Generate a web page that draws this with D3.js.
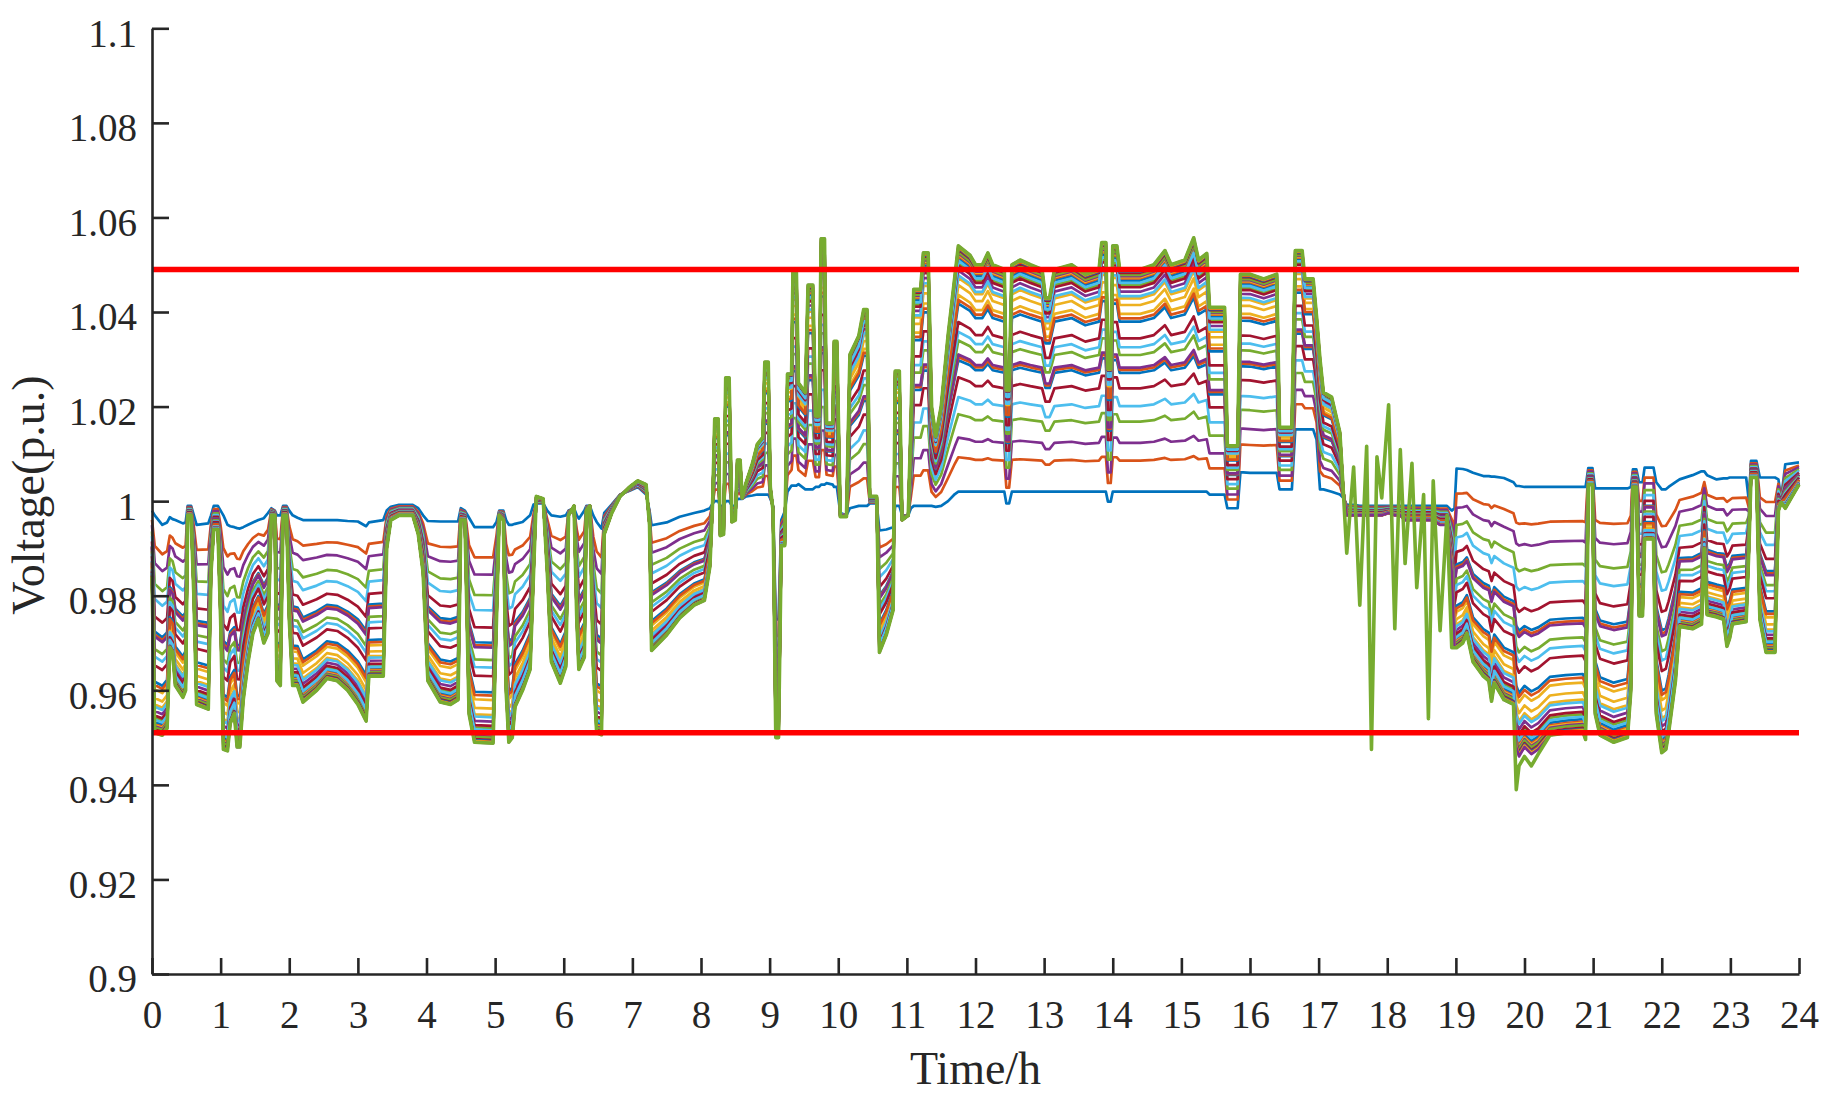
<!DOCTYPE html>
<html><head><meta charset="utf-8">
<script src="https://cdn.jsdelivr.net/npm/d3@7"></script>
<style>body{margin:0;background:#fff;} svg{display:block;}</style>
</head><body>
<svg id="chart" width="1833" height="1094"></svg>
<script>
// time of day (h)
const hours = [
0.00,0.04,0.15,0.22,0.26,0.30,0.34,0.45,0.49,0.52,0.57,0.61,0.65,0.82,0.86,0.90,0.96,1.00,1.04,1.10,
1.14,1.20,1.24,1.28,1.33,1.40,1.47,1.55,1.63,1.69,1.74,1.79,1.82,1.87,1.91,1.96,2.00,2.05,2.12,2.20,
2.40,2.55,2.70,2.85,3.00,3.12,3.16,3.37,3.42,3.48,3.60,3.80,3.88,3.95,4.02,4.20,4.35,4.46,4.50,4.56,
4.62,4.70,4.97,5.02,5.06,5.12,5.16,5.20,5.25,5.29,5.40,5.51,5.56,5.60,5.70,5.76,5.82,5.95,6.03,6.07,
6.15,6.19,6.22,6.30,6.33,6.38,6.43,6.48,6.55,6.59,6.70,6.82,6.96,7.08,7.20,7.25,7.28,7.50,7.69,7.90,
8.05,8.13,8.17,8.20,8.25,8.28,8.33,8.36,8.41,8.45,8.50,8.53,8.57,8.60,8.66,8.75,8.82,8.90,8.93,8.98,
9.01,9.05,9.09,9.13,9.17,9.22,9.26,9.32,9.34,9.39,9.42,9.52,9.56,9.63,9.67,9.72,9.75,9.80,9.83,9.92,
9.94,9.98,10.03,10.12,10.17,10.30,10.37,10.42,10.46,10.56,10.60,10.70,10.80,10.83,10.89,10.93,11.02,11.06,11.10,11.20,
11.24,11.31,11.36,11.42,11.50,11.60,11.70,11.75,11.92,12.00,12.10,12.18,12.25,12.42,12.45,12.49,12.53,12.65,12.80,12.97,
13.02,13.08,13.15,13.40,13.60,13.80,13.84,13.90,13.93,13.97,14.00,14.06,14.10,14.40,14.60,14.76,14.85,15.05,15.18,15.25,
15.37,15.41,15.63,15.67,15.82,15.86,15.90,16.00,16.20,16.39,16.43,16.61,16.66,16.76,16.80,16.92,16.97,17.02,17.07,17.19,
17.31,17.36,17.41,17.51,17.60,17.70,17.77,17.85,17.92,18.02,18.11,18.19,18.26,18.36,18.43,18.53,18.60,18.67,18.77,18.87,
18.94,18.98,19.01,19.10,19.16,19.25,19.40,19.48,19.52,19.56,19.70,19.84,19.88,19.92,20.00,20.10,20.20,20.37,20.60,20.85,
20.89,20.93,20.99,21.03,21.10,21.30,21.50,21.55,21.58,21.63,21.67,21.72,21.75,21.88,21.92,22.00,22.06,22.10,22.20,22.26,
22.45,22.58,22.62,22.66,22.80,22.90,22.95,22.99,23.03,23.23,23.27,23.30,23.38,23.43,23.52,23.65,23.70,23.74,23.80,23.90,
24.00];

// voltage of the feeder head node (blue, top line at night)
const headVoltage = [
0.998,0.997,0.995,0.9955,0.9966,0.9962,0.996,0.9953,0.9955,0.999,0.999,0.997,0.995,0.9953,0.997,0.999,0.999,0.998,0.997,0.995,
0.9947,0.9945,0.9943,0.9942,0.9945,0.995,0.9955,0.996,0.9964,0.9975,0.9985,0.998,0.997,0.997,0.999,0.999,0.998,0.997,0.9965,0.996,
0.996,0.996,0.996,0.9958,0.9957,0.9947,0.9955,0.996,0.998,0.9988,0.9992,0.9992,0.9985,0.997,0.9958,0.9957,0.9957,0.9957,0.9985,0.998,
0.9965,0.9945,0.9945,0.9956,0.998,0.998,0.996,0.995,0.995,0.9952,0.9956,0.997,0.9993,0.9995,0.9996,0.998,0.997,0.9967,0.997,0.998,
0.9985,0.997,0.9963,0.998,0.999,0.999,0.997,0.9956,0.9942,0.9975,0.9993,1.0014,1.0022,1.003,1.0014,0.998,0.9949,0.9955,0.9967,0.9975,
0.998,0.9985,0.9995,1.000,1.000,0.999,0.999,1.000,1.000,0.999,0.999,1.0005,1.0005,1.0005,1.001,1.0012,1.0014,1.0014,1.0014,1.0014,
1.0005,0.999,0.975,0.975,0.996,0.9978,1.002,1.0033,1.0033,1.0033,1.0036,1.0025,1.0025,1.0025,1.003,1.003,1.0035,1.0035,1.0038,1.0035,
1.003,1.003,0.9975,0.997,0.9985,0.999,0.999,0.999,0.9995,0.9995,0.9938,0.994,0.9945,0.999,0.999,0.997,0.997,0.9985,0.999,0.999,
0.999,0.999,0.999,0.9988,0.999,1.000,1.0015,1.002,1.002,1.002,1.002,1.002,1.002,1.002,0.9995,0.9995,1.002,1.002,1.002,1.002,
1.002,1.002,1.002,1.002,1.002,1.002,1.002,1.002,0.9999,0.9999,1.002,1.002,1.002,1.002,1.002,1.002,1.002,1.002,1.002,1.002,
1.002,1.0014,1.0014,0.9985,0.9985,1.0061,1.0061,1.006,1.006,1.006,1.0025,1.0025,1.0152,1.0152,1.0152,1.0152,1.013,1.0025,1.0025,1.002,
1.0014,1.0007,0.9992,0.9992,0.999,0.999,0.999,0.999,0.999,0.999,0.999,0.999,0.999,0.999,0.999,0.999,0.999,0.999,0.999,0.999,
0.998,0.9985,1.0069,1.0068,1.0066,1.006,1.0053,1.0053,1.0052,1.0052,1.0049,1.004,1.0032,1.0032,1.003,1.003,1.003,1.003,1.003,1.003,
1.003,1.007,1.007,1.0027,1.0027,1.0027,1.0027,1.003,1.0067,1.0067,1.004,1.004,1.0071,1.0071,1.004,1.0025,1.0025,1.003,1.004,1.0046,
1.0055,1.0063,1.0063,1.0055,1.0046,1.0048,1.0048,1.005,1.005,1.005,1.000,1.0085,1.0085,1.005,1.005,1.005,1.0046,1.0004,1.0078,1.008,
1.0082];

// voltage of the outermost node of the main bundle
const bandVoltage = [
0.984,0.951,0.9505,0.952,0.969,0.968,0.961,0.9585,0.960,0.997,0.997,0.980,0.957,0.956,0.985,0.994,0.994,0.975,0.9475,0.9472,
0.953,0.955,0.948,0.948,0.958,0.966,0.972,0.975,0.970,0.972,0.997,0.997,0.962,0.961,0.997,0.997,0.975,0.961,0.961,0.9575,
0.960,0.9625,0.962,0.960,0.957,0.9535,0.963,0.963,0.990,0.996,0.997,0.997,0.993,0.985,0.962,0.9575,0.957,0.958,0.996,0.996,
0.955,0.949,0.9488,0.975,0.997,0.996,0.960,0.949,0.950,0.9565,0.960,0.9644,0.985,1.001,1.0005,0.985,0.966,0.9615,0.965,0.997,
0.999,0.975,0.9644,0.967,0.998,0.999,0.965,0.951,0.9506,0.993,0.9975,1.001,1.003,1.0043,1.0035,0.995,0.9684,0.9717,0.9753,0.978,
0.979,0.9862,1.000,1.0174,1.0174,0.9927,0.993,1.0261,1.0261,0.9956,0.996,1.0087,1.0087,1.0007,1.004,1.008,1.012,1.0135,1.0294,1.0294,
1.003,0.998,0.950,0.950,0.9906,0.9906,1.0269,1.0269,1.0485,1.0485,1.025,1.023,1.0457,1.0457,1.018,1.018,1.0555,1.0555,1.0165,1.0165,
1.0338,1.0338,0.9967,0.9967,1.031,1.035,1.0405,1.0405,1.001,1.001,0.968,0.9717,0.977,1.0275,1.0275,0.996,0.997,1.017,1.0448,1.0448,
1.0525,1.0525,1.020,1.0137,1.020,1.035,1.0476,1.054,1.052,1.050,1.050,1.0525,1.050,1.049,1.0235,1.0235,1.050,1.051,1.050,1.049,
1.043,1.043,1.049,1.050,1.048,1.049,1.0547,1.0547,1.028,1.028,1.054,1.054,1.049,1.049,1.050,1.053,1.050,1.051,1.0557,1.051,
1.0524,1.041,1.041,1.0117,1.0117,1.048,1.048,1.048,1.047,1.048,1.0156,1.0156,1.053,1.053,1.047,1.047,1.039,1.030,1.023,1.022,
1.0145,1.002,0.997,0.997,0.997,0.997,0.997,0.997,0.997,0.9975,0.997,0.997,0.996,0.996,0.996,0.996,0.996,0.996,0.995,0.995,
0.985,0.969,0.969,0.970,0.972,0.966,0.963,0.962,0.9577,0.9615,0.958,0.957,0.948,0.946,0.948,0.9465,0.9475,0.9505,0.951,0.9513,
0.9496,1.0035,1.0035,0.955,0.9505,0.949,0.950,0.960,1.003,1.003,0.9757,0.9757,0.992,0.992,0.955,0.9468,0.9475,0.951,0.962,0.9735,
0.973,0.974,0.990,0.976,0.9755,0.975,0.9693,0.971,0.974,0.9745,0.990,1.005,1.005,0.975,0.968,0.968,0.998,0.9997,0.9985,1.001,
1.0035];

// voltage of the last plotted node (green, drawn on top)
const tailVoltage = [
0.984,0.951,0.9505,0.952,0.969,0.968,0.961,0.9585,0.960,0.997,0.997,0.980,0.957,0.956,0.985,0.994,0.994,0.975,0.9475,0.9472,
0.953,0.955,0.948,0.948,0.958,0.966,0.972,0.975,0.970,0.972,0.997,0.997,0.962,0.961,0.997,0.997,0.975,0.961,0.961,0.9575,
0.960,0.9625,0.962,0.960,0.957,0.9535,0.963,0.963,0.990,0.996,0.997,0.997,0.993,0.985,0.962,0.9575,0.957,0.958,0.996,0.996,
0.955,0.949,0.9488,0.975,0.997,0.996,0.960,0.949,0.950,0.9565,0.960,0.9644,0.985,1.001,1.0005,0.985,0.966,0.9615,0.965,0.997,
0.999,0.975,0.9644,0.967,0.998,0.999,0.965,0.951,0.9506,0.993,0.9975,1.001,1.003,1.0043,1.0035,0.995,0.9684,0.9717,0.9753,0.978,
0.979,0.9862,1.000,1.0174,1.0174,0.9927,0.993,1.0261,1.0261,0.9956,0.996,1.0087,1.0087,1.0007,1.004,1.008,1.012,1.0135,1.0294,1.0294,
1.003,0.998,0.950,0.950,0.9906,0.9906,1.0269,1.0269,1.0485,1.0485,1.025,1.023,1.0457,1.0457,1.018,1.018,1.0555,1.0555,1.0165,1.0165,
1.0338,1.0338,0.9967,0.9967,1.031,1.035,1.0405,1.0405,1.001,1.001,0.968,0.9717,0.977,1.0275,1.0275,0.996,0.997,1.017,1.0448,1.0448,
1.0525,1.0525,1.020,1.0137,1.020,1.035,1.0476,1.054,1.052,1.050,1.050,1.0525,1.050,1.049,1.0235,1.0235,1.050,1.051,1.050,1.049,
1.043,1.043,1.049,1.050,1.048,1.049,1.0547,1.0547,1.028,1.028,1.054,1.054,1.049,1.049,1.050,1.053,1.050,1.051,1.0557,1.051,
1.0524,1.041,1.041,1.0117,1.0117,1.048,1.048,1.048,1.047,1.048,1.0156,1.0156,1.053,1.053,1.047,1.047,1.039,1.030,1.023,1.022,
1.0145,1.002,0.989,1.0072,0.978,1.0116,0.9475,1.0094,1.0007,1.0204,0.973,1.0109,0.9868,1.008,0.9817,1.0014,0.954,1.0043,0.9726,0.997,
0.969,0.969,0.969,0.970,0.972,0.966,0.963,0.962,0.9577,0.9615,0.958,0.957,0.939,0.944,0.946,0.944,0.9465,0.9505,0.951,0.9513,
0.9496,1.0035,1.0035,0.955,0.9505,0.949,0.950,0.960,1.003,1.003,0.9757,0.9757,0.992,0.992,0.955,0.9468,0.9475,0.951,0.962,0.9735,
0.973,0.974,0.990,0.976,0.9755,0.975,0.9693,0.971,0.974,0.9745,0.990,1.005,1.005,0.975,0.968,0.968,0.998,0.9997,0.9985,1.001,
1.0035];

// relative position of each bundle node between head (0) and band edge (1)
const nodeShare = [0,0.14,0.84,0.22,0.315,0.385,0.465,0.535,0.548,0.80,0.558,0.615,0.65,0.69,0.765,0.78,
                   0.87,0.90,0.93,0.88,0.92,0.95,0.96,0.965,0.97,0.975,0.94,0.985,0.99,0.993,0.996,1.0];

const xTickValues = d3.range(0, 25, 1);
const yTickValues = [0.9,0.92,0.94,0.96,0.98,1.0,1.02,1.04,1.06,1.08,1.1];
const yTickLabels = ["0.9","0.92","0.94","0.96","0.98","1","1.02","1.04","1.06","1.08","1.1"];
const voltageLimits = [0.951, 1.049];

const palette = ["#0072BD","#D95319","#EDB120","#7E2F8E","#77AC30","#4DBEEE","#A2142F"];

(function draw() {
  const svg = d3.select("#chart");
  const mLeft = 152, mRight = 1799, mTop = 28.3, mBottom = 974;
  const x = d3.scaleLinear().domain([0, 24]).range([mLeft, mRight]);
  const y = d3.scaleLinear().domain([0.9, 1.1]).range([mBottom, mTop]);

  const n = Math.min(hours.length, headVoltage.length, bandVoltage.length, tailVoltage.length);
  const idx = d3.range(n);

  const series = nodeShare.map(s => idx.map(i => [hours[i], headVoltage[i] + s * (bandVoltage[i] - headVoltage[i])]));
  series.push(idx.map(i => [hours[i], tailVoltage[i]]));

  const line = d3.line().x(d => x(d[0])).y(d => y(d[1]));

  const g = svg.append("g");
  series.forEach((s, k) => {
    const last = k === series.length - 1;
    g.append("path")
      .datum(s)
      .attr("d", line)
      .attr("fill", "none")
      .attr("stroke", palette[k % 7])
      .attr("stroke-width", last ? 3.6 : 2.7)
      .attr("stroke-linejoin", "round");
  });

  svg.selectAll("line.limit").data(voltageLimits).enter().append("line")
    .attr("class", "limit")
    .attr("x1", x(0)).attr("x2", x(24))
    .attr("y1", d => y(d)).attr("y2", d => y(d))
    .attr("stroke", "#FF0000").attr("stroke-width", 5.5);

  const fontFam = "'Liberation Serif','Times New Roman',serif";
  const axisColor = "#262626";

  const xAxis = d3.axisBottom(x).tickValues(xTickValues).tickFormat(d3.format("d"))
    .tickSizeInner(-16).tickSizeOuter(0).tickPadding(26);
  const yAxis = d3.axisLeft(y).tickValues(yTickValues).tickFormat((d, i) => yTickLabels[i])
    .tickSizeInner(-17).tickSizeOuter(0).tickPadding(15);

  const gx = svg.append("g").attr("transform", `translate(0,${mBottom})`).call(xAxis);
  const gy = svg.append("g").attr("transform", `translate(${mLeft},0)`).call(yAxis);

  [gx, gy].forEach(a => {
    a.select(".domain").attr("stroke", axisColor).attr("stroke-width", 2.6);
    a.selectAll(".tick line").attr("stroke", axisColor).attr("stroke-width", 2.6);
    a.selectAll(".tick text").attr("fill", axisColor)
      .style("font-family", fontFam).style("font-size", "39px");
  });
  gy.selectAll(".tick text").attr("dy", "0.46em");

  svg.append("text")
    .attr("x", (mLeft + mRight) / 2).attr("y", 1084)
    .attr("text-anchor", "middle")
    .style("font-family", fontFam).style("font-size", "46px").attr("fill", axisColor)
    .text("Time/h");

  svg.append("text")
    .attr("transform", `translate(44,495) rotate(-90)`)
    .attr("text-anchor", "middle")
    .style("font-family", fontFam).style("font-size", "46px").attr("fill", axisColor)
    .text("Voltage(p.u.)");
})();
</script>
</body></html>
